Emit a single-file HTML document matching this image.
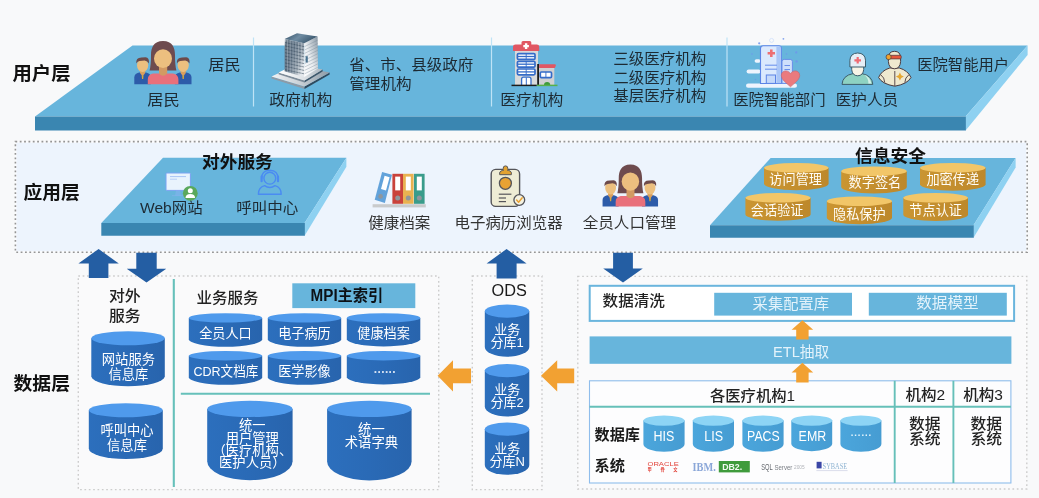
<!DOCTYPE html>
<html lang="zh-CN">
<head>
<meta charset="utf-8">
<title>区域医疗数据平台架构</title>
<style>
html,body{margin:0;padding:0;background:#f8f9fa;}
body{width:1039px;height:498px;overflow:hidden;font-family:"Liberation Sans", "Noto Sans CJK SC", sans-serif;}
svg{display:block;font-family:"Liberation Sans", "Noto Sans CJK SC", sans-serif;filter:blur(0.45px);}
</style>
</head>
<body>
<svg width="1039" height="498" viewBox="0 0 1039 498">
<defs>
<linearGradient id="gBlue" x1="0" x2="1" y1="0" y2="0"><stop offset="0" stop-color="#2c6fbd"/><stop offset="0.5" stop-color="#2a6ab6"/><stop offset="1" stop-color="#2864ad"/></linearGradient>
<linearGradient id="gLight" x1="0" x2="1" y1="0" y2="0"><stop offset="0" stop-color="#4ba6dc"/><stop offset="1" stop-color="#469cd2"/></linearGradient>
<linearGradient id="gGold" x1="0" x2="1" y1="0" y2="0"><stop offset="0" stop-color="#ca9532"/><stop offset="1" stop-color="#bd882b"/></linearGradient>
<linearGradient id="gBldL" x1="0" x2="1" y1="0" y2="0.6"><stop offset="0" stop-color="#dfe5e9"/><stop offset="0.1" stop-color="#6a7b89"/><stop offset="0.45" stop-color="#66788a"/><stop offset="0.8" stop-color="#9ba7b2"/><stop offset="1" stop-color="#e4e8ec"/></linearGradient>
<linearGradient id="gBase" x1="0" x2="1" y1="0" y2="0"><stop offset="0" stop-color="#f1f3f5"/><stop offset="0.5" stop-color="#c9d0d6"/><stop offset="1" stop-color="#8c9aa6"/></linearGradient>
<linearGradient id="gBase2" x1="0" x2="1" y1="0" y2="0"><stop offset="0" stop-color="#ffffff"/><stop offset="0.6" stop-color="#dce1e5"/><stop offset="1" stop-color="#a9b4bd"/></linearGradient>
<linearGradient id="gBldR" x1="0" x2="1" y1="1" y2="0"><stop offset="0" stop-color="#ffffff"/><stop offset="0.45" stop-color="#e9edf0"/><stop offset="1" stop-color="#8796a3"/></linearGradient>
<linearGradient id="gBldT" x1="0" x2="1" y1="0" y2="0.4"><stop offset="0" stop-color="#2f4c62"/><stop offset="0.5" stop-color="#6f8ca2"/><stop offset="1" stop-color="#3a576d"/></linearGradient>
</defs>
<rect x="0" y="0" width="1039" height="498" fill="#f8f9fa"/>

<g id="user-layer">
<polygon points="132.5,45.5 1027.6,45.5 965.6,116.6 35,116.6" fill="#67b5dc"/>
<polygon points="1027.6,45.5 1027.6,55.0 965.6,130.6 965.6,116.6" fill="#8ed1f1"/>
<polygon points="35,116.6 965.9,116.6 965.9,130.6 35,130.6" fill="#3a86b1"/>
<line x1="253.5" y1="37.5" x2="253.5" y2="106.5" stroke="#bfe3f6" stroke-width="1.2"/>
<line x1="491.5" y1="37.5" x2="491.5" y2="106.5" stroke="#bfe3f6" stroke-width="1.2"/>
<line x1="727" y1="37.5" x2="727" y2="106.5" stroke="#bfe3f6" stroke-width="1.2"/>
<text x="12.4" y="80.1" font-size="18.6" fill="#111" font-weight="700" textLength="58.2" lengthAdjust="spacingAndGlyphs">用户层</text>
<text x="208.2" y="70.2" font-size="15.2" fill="#1d2a33" textLength="32.5" lengthAdjust="spacingAndGlyphs">居民</text>
<text x="147.2" y="105.2" font-size="15.2" fill="#1d2a33" textLength="32.5" lengthAdjust="spacingAndGlyphs">居民</text>
<text x="269.2" y="105.2" font-size="15.2" fill="#1d2a33" textLength="63.0" lengthAdjust="spacingAndGlyphs">政府机构</text>
<text x="349.2" y="70.2" font-size="15.2" fill="#1d2a33" textLength="124.0" lengthAdjust="spacingAndGlyphs">省、市、县级政府</text>
<text x="349.2" y="88.7" font-size="15.2" fill="#1d2a33" textLength="62.5" lengthAdjust="spacingAndGlyphs">管理机构</text>
<text x="500.2" y="105.2" font-size="15.2" fill="#1d2a33" textLength="63.0" lengthAdjust="spacingAndGlyphs">医疗机构</text>
<text x="613.2" y="64.2" font-size="15.2" fill="#1d2a33" textLength="93.0" lengthAdjust="spacingAndGlyphs">三级医疗机构</text>
<text x="613.2" y="82.9" font-size="15.2" fill="#1d2a33" textLength="93.0" lengthAdjust="spacingAndGlyphs">二级医疗机构</text>
<text x="613.2" y="101.2" font-size="15.2" fill="#1d2a33" textLength="93.0" lengthAdjust="spacingAndGlyphs">基层医疗机构</text>
<text x="733.2" y="104.7" font-size="15.2" fill="#1d2a33" textLength="92.5" lengthAdjust="spacingAndGlyphs">医院智能部门</text>
<text x="835.7" y="104.7" font-size="15.2" fill="#1d2a33" textLength="62.5" lengthAdjust="spacingAndGlyphs">医护人员</text>
<text x="917.2" y="69.7" font-size="15.2" fill="#1d2a33" textLength="92.0" lengthAdjust="spacingAndGlyphs">医院智能用户</text>
<g transform="translate(163,84.2) scale(1) translate(-163,-84.2)">
<path d="M134.3,84.2 L134.3,77.5 Q134.3,73.6 139.1,72.6 L146.1,72.6 Q150.9,73.6 150.9,77.5 L150.9,84.2 Z" fill="#2d5ba9"/>
<path d="M140.0,70 L145.2,70 L145.2,73 L142.6,76.5 L140.0,73 Z" fill="#d9a05f"/>
<path d="M141.7,75.5 L143.5,75.5 L143.2,79 L142.0,79 Z" fill="#d6a83a"/>
<ellipse cx="142.6" cy="65.3" rx="5.6" ry="6.6" fill="#ecbf7f"/>
<path d="M136.3,63.5 Q135.6,57.3 141.6,57.4 L145.6,57.2 Q149.6,57.6 148.9,63.5 Q147.6,60.6 144.6,60.4 L139.6,61 Q137.3,61.4 136.3,63.5 Z" fill="#6d4a4a"/>
<path d="M174.9,84.2 L174.9,77.5 Q174.9,73.6 179.7,72.6 L186.7,72.6 Q191.5,73.6 191.5,77.5 L191.5,84.2 Z" fill="#2d5ba9"/>
<path d="M180.6,70 L185.8,70 L185.8,73 L183.2,76.5 L180.6,73 Z" fill="#d9a05f"/>
<path d="M182.3,75.5 L184.1,75.5 L183.8,79 L182.6,79 Z" fill="#d6a83a"/>
<ellipse cx="183.2" cy="65.3" rx="5.6" ry="6.6" fill="#ecbf7f"/>
<path d="M176.9,63.5 Q176.2,57.3 182.2,57.4 L186.2,57.2 Q190.2,57.6 189.5,63.5 Q188.2,60.6 185.2,60.4 L180.2,61 Q177.9,61.4 176.9,63.5 Z" fill="#6d4a4a"/>
<path d="M163,41.1 C153.5,41.1 151,48 151,55 C151,62 150.5,67 149.6,70.6 L176.4,70.6 C175.5,67 175,62 175,55 C175,48 172.5,41.1 163,41.1 Z" fill="#6e4b4e"/>
<path d="M147.8,84.2 L147.8,79.5 Q147.8,74.6 153,73.6 L173,73.6 Q178.4,74.6 178.4,79.5 L178.4,84.2 Z" fill="#e9707b"/>
<path d="M159,66 L167.2,66 L167.2,73.4 Q163,78 159,73.4 Z" fill="#d29a63"/>
<ellipse cx="163" cy="58.6" rx="9" ry="9.4" fill="#ecbf7f"/>
</g>
<g id="gov">
<polygon points="271.5,78.6 304.5,88.9 304.5,86.5 271.5,76.5" fill="#8d9ba7"/>
<polygon points="304.5,88.9 329.6,74.6 329.6,72.4 304.5,86.5" fill="#2f4a5e"/>
<polygon points="271.5,76.5 295,65.5 329.6,72.4 304.5,86.5" fill="url(#gBase)"/>
<polygon points="278.6,74.2 304.5,82.4 304.5,80.4 278.6,72.4" fill="#7d8c99"/>
<polygon points="304.5,82.4 322.6,71.4 322.6,69.4 304.5,80.4" fill="#3d586c"/>
<polygon points="278.6,72.4 295,64.5 322.6,69.4 304.5,80.4" fill="url(#gBase2)"/>
<polygon points="284.6,39.1 304.2,43.2 304.2,77 284.6,71.2" fill="url(#gBldL)"/>
<polygon points="304.2,43.2 317.6,36.6 318,68.6 304.2,77" fill="url(#gBldR)"/>
<polygon points="284.6,39.1 297,33.2 317.6,36.6 304.2,43.2" fill="url(#gBldT)"/>
<line x1="285" y1="42.5" x2="304" y2="46.6" stroke="#2c4153" stroke-width="1" opacity="0.5"/>
<line x1="304.6" y1="46.6" x2="317.8" y2="40.1" stroke="#6f8190" stroke-width="0.7" opacity="0.5"/>
<line x1="285" y1="45.9" x2="304" y2="50.0" stroke="#2c4153" stroke-width="1" opacity="0.5"/>
<line x1="304.6" y1="50.0" x2="317.8" y2="43.5" stroke="#6f8190" stroke-width="0.7" opacity="0.5"/>
<line x1="285" y1="49.3" x2="304" y2="53.4" stroke="#2c4153" stroke-width="1" opacity="0.5"/>
<line x1="304.6" y1="53.4" x2="317.8" y2="46.9" stroke="#6f8190" stroke-width="0.7" opacity="0.5"/>
<line x1="285" y1="52.7" x2="304" y2="56.8" stroke="#2c4153" stroke-width="1" opacity="0.5"/>
<line x1="304.6" y1="56.8" x2="317.8" y2="50.3" stroke="#6f8190" stroke-width="0.7" opacity="0.5"/>
<line x1="285" y1="56.1" x2="304" y2="60.2" stroke="#2c4153" stroke-width="1" opacity="0.5"/>
<line x1="304.6" y1="60.2" x2="317.8" y2="53.7" stroke="#6f8190" stroke-width="0.7" opacity="0.5"/>
<line x1="285" y1="59.5" x2="304" y2="63.6" stroke="#2c4153" stroke-width="1" opacity="0.5"/>
<line x1="304.6" y1="63.6" x2="317.8" y2="57.1" stroke="#6f8190" stroke-width="0.7" opacity="0.5"/>
<line x1="285" y1="62.9" x2="304" y2="67.0" stroke="#2c4153" stroke-width="1" opacity="0.5"/>
<line x1="304.6" y1="67.0" x2="317.8" y2="60.5" stroke="#6f8190" stroke-width="0.7" opacity="0.5"/>
<line x1="285" y1="66.3" x2="304" y2="70.4" stroke="#2c4153" stroke-width="1" opacity="0.5"/>
<line x1="304.6" y1="70.4" x2="317.8" y2="63.9" stroke="#6f8190" stroke-width="0.7" opacity="0.5"/>
<line x1="285" y1="69.7" x2="304" y2="73.8" stroke="#2c4153" stroke-width="1" opacity="0.5"/>
<line x1="304.6" y1="73.8" x2="317.8" y2="67.3" stroke="#6f8190" stroke-width="0.7" opacity="0.5"/>
<line x1="287.4" y1="39.7" x2="287.4" y2="72.0" stroke="#e3e9ee" stroke-width="0.7" opacity="0.45"/>
<line x1="290.2" y1="40.3" x2="290.2" y2="72.9" stroke="#e3e9ee" stroke-width="0.7" opacity="0.45"/>
<line x1="293.0" y1="40.9" x2="293.0" y2="73.7" stroke="#e3e9ee" stroke-width="0.7" opacity="0.45"/>
<line x1="295.8" y1="41.5" x2="295.8" y2="74.5" stroke="#e3e9ee" stroke-width="0.7" opacity="0.45"/>
<line x1="298.6" y1="42.1" x2="298.6" y2="75.4" stroke="#e3e9ee" stroke-width="0.7" opacity="0.45"/>
<line x1="301.4" y1="42.6" x2="301.4" y2="76.2" stroke="#e3e9ee" stroke-width="0.7" opacity="0.45"/>
<rect x="305.6" y="56.2" width="2.2" height="6.3" fill="#4a7390"/>
</g>
<g id="hospital">
<rect x="515" y="50.5" width="23" height="34.6" fill="#d9dadb"/>
<rect x="538.3" y="67.5" width="16" height="17.6" fill="#cfd0d2"/>
<path d="M513,50.9 L513,46.8 Q513,44.4 515.5,44.4 L521.5,44.4 L521.5,42.6 Q521.5,41.1 523,41.1 L529.8,41.1 Q531.3,41.1 531.3,42.6 L531.3,44.4 L536.8,44.4 Q539.2,44.4 539.2,46.8 L539.2,50.9 Z" fill="#e15763"/>
<path d="M524.9,43.3 h2.4 v1.6 h1.6 v2.4 h-1.6 v1.6 h-2.4 v-1.6 h-1.6 v-2.4 h1.6 z" fill="#fff"/>
<rect x="517.4" y="53.6" width="17.6" height="5.8" rx="1.2" fill="#fff" stroke="#356cc9" stroke-width="1.7"/>
<line x1="526.2" y1="53.6" x2="526.2" y2="59.4" stroke="#356cc9" stroke-width="0.9"/>
<line x1="517.4" y1="56.5" x2="535" y2="56.5" stroke="#356cc9" stroke-width="1.3"/>
<rect x="517.4" y="61.3" width="17.6" height="5.8" rx="1.2" fill="#fff" stroke="#356cc9" stroke-width="1.7"/>
<line x1="526.2" y1="61.3" x2="526.2" y2="67.1" stroke="#356cc9" stroke-width="0.9"/>
<line x1="517.4" y1="64.2" x2="535" y2="64.2" stroke="#356cc9" stroke-width="1.3"/>
<rect x="517.4" y="69" width="17.6" height="5.8" rx="1.2" fill="#fff" stroke="#356cc9" stroke-width="1.7"/>
<line x1="526.2" y1="69" x2="526.2" y2="74.8" stroke="#356cc9" stroke-width="0.9"/>
<line x1="517.4" y1="71.9" x2="535" y2="71.9" stroke="#356cc9" stroke-width="1.3"/>
<path d="M521.6,85 L521.6,79.2 Q521.6,77.2 523.6,77.2 L529,77.2 Q531,77.2 531,79.2 L531,85" fill="#fff" stroke="#356cc9" stroke-width="1.3"/>
<line x1="526.3" y1="77.5" x2="526.3" y2="85" stroke="#356cc9" stroke-width="1"/>
<path d="M539.2,67.9 L539.2,64.2 L554.8,64.2 Q556.4,64.2 555.8,65.7 L554.8,67.9 Z" fill="#e15763"/>
<rect x="540.3" y="72" width="11.2" height="5.6" rx="1" fill="#fff" stroke="#356cc9" stroke-width="1.7"/>
<line x1="545.9" y1="72" x2="545.9" y2="77.6" stroke="#356cc9" stroke-width="0.9"/>
<line x1="538.1" y1="64" x2="538.1" y2="85" stroke="#1c1c1c" stroke-width="1.8"/>
<path d="M544,85 a3.1,3.1 0 0 1 6.2,0 Z" fill="#3e9a3c"/>
<line x1="511.5" y1="85.4" x2="536.8" y2="85.4" stroke="#1c1c1c" stroke-width="1.5"/>
<line x1="536.8" y1="85.4" x2="557.5" y2="85.4" stroke="#56b04a" stroke-width="1.5"/>
</g>
<g id="smart">
<rect x="746" y="83.6" width="51" height="4.2" rx="2.1" fill="#eef4fd"/>
<rect x="746.6" y="69.6" width="14" height="4" rx="2" fill="#eef4fd"/>
<rect x="754.6" y="59.2" width="6" height="3.6" rx="1.8" fill="#eef4fd"/>
<path d="M782,83.4 L782,61.6 Q782,59.4 784.2,59.4 L790.2,59.4 Q792.4,59.4 792.4,61.6 L792.4,83.4 Z" fill="#cfe0fb" stroke="#6a8fea" stroke-width="1"/>
<line x1="784.5" y1="65.5" x2="790" y2="65.5" stroke="#6a8fea" stroke-width="1"/>
<line x1="784.5" y1="69.5" x2="790" y2="69.5" stroke="#6a8fea" stroke-width="1"/>
<path d="M760.5,83.5 L760.5,48.4 Q760.5,45.7 763.2,45.7 L778.6,45.7 Q781.3,45.7 781.3,48.4 L781.3,83.5 Z" fill="#dbe9fd" stroke="#5c84e6" stroke-width="1.1"/>
<rect x="776.4" y="46.4" width="4.3" height="36.8" fill="#a9c6f7"/>
<path d="M770,49.6 h2.6 v2.4 h2.4 v2.6 h-2.4 v2.4 h-2.6 v-2.4 h-2.4 v-2.6 h2.4 z" fill="#ee6f72"/>
<line x1="765" y1="65.2" x2="777" y2="65.2" stroke="#6f95ec" stroke-width="1.1"/>
<line x1="765" y1="69.2" x2="777" y2="69.2" stroke="#6f95ec" stroke-width="1.1"/>
<rect x="766.3" y="75" width="9.2" height="8.4" fill="#c5d9fa" stroke="#5c84e6" stroke-width="1"/>
<path d="M790.5,86.8 C786,82.8 781.3,79.6 781.3,75.3 C781.3,72.6 783.4,70.9 785.8,70.9 C787.8,70.9 789.6,72 790.5,73.8 C791.4,72 793.2,70.9 795.2,70.9 C797.6,70.9 799.7,72.6 799.7,75.3 C799.7,79.6 795,82.8 790.5,86.8 Z" fill="#ea7a7e" stroke="#c9636c" stroke-width="0.6"/>
<circle cx="759.2" cy="43.3" r="1.1" fill="#6f95ec" opacity="0.85"/>
<circle cx="783.4" cy="38.8" r="0.9" fill="#6f95ec" opacity="0.85"/>
<circle cx="796.3" cy="52.4" r="1.1" fill="#6f95ec" opacity="0.85"/>
<circle cx="796.6" cy="61.4" r="1.2" fill="#6f95ec" opacity="0.85"/>
<circle cx="752" cy="54" r="0.8" fill="#6f95ec" opacity="0.85"/>
<circle cx="786.6" cy="54" r="0.7" fill="#6f95ec" opacity="0.85"/>
<circle cx="755.5" cy="79.5" r="0.7" fill="#6f95ec" opacity="0.85"/>
<circle cx="771.6" cy="40.4" r="2" fill="none" stroke="#cfe0fb" stroke-width="0.8"/>
</g>
<g id="medstaff">
<path d="M842,84.4 Q842.6,75.6 853,73.6 L862,73.6 Q872.2,75.6 872.8,84.4 Z" fill="#8ed2c2" stroke="#3d5c6b" stroke-width="1"/>
<path d="M864,74.5 Q870,77 871.3,83.6 L868.4,83.6 Q868.8,78.5 864,74.5 Z" fill="#d4efe8"/>
<path d="M851.7,66 L851.7,69.5 Q852.2,75.6 857.7,75.8 Q863.2,75.6 863.7,69.5 L863.7,66 Z" fill="#f8f4e6" stroke="#3d5c6b" stroke-width="1"/>
<path d="M849.9,67 L849.9,60.2 Q850.3,53.2 857.7,53 Q865.1,53.2 865.5,60.2 L865.5,67 Z" fill="#e6eef6" stroke="#3d5c6b" stroke-width="1"/>
<path d="M856.6,57 h2.2 v2.2 h2.2 v2.2 h-2.2 v2.2 h-2.2 v-2.2 h-2.2 v-2.2 h2.2 z" fill="#ef6b73"/>
<path d="M878.6,77.5 Q881.6,70.4 889.8,68 L899.3,68 Q907.8,70.4 911,77.5 Q907.5,84 894.8,86.2 Q882,84 878.6,77.5 Z" fill="#efe9cf" stroke="#4b3b3f" stroke-width="1"/>
<path d="M880.6,74.6 Q884.6,77.5 884.8,82.6" fill="none" stroke="#4b3b3f" stroke-width="0.9"/>
<path d="M909,74.6 Q905,77.5 904.8,82.6" fill="none" stroke="#4b3b3f" stroke-width="0.9"/>
<line x1="894.8" y1="71" x2="894.8" y2="86" stroke="#4b3b3f" stroke-width="0.9"/>
<path d="M899.9,72.6 l1.3,2.7 l2.7,1.3 l-2.7,1.3 l-1.3,2.7 l-1.3,-2.7 l-2.7,-1.3 l2.7,-1.3 z" fill="#e5a731"/>
<path d="M888.4,58 Q888.4,51.4 894.5,51.3 Q900.6,51.4 900.6,58 L900.6,61.5 Q900.2,68.6 894.5,68.8 Q888.8,68.6 888.4,61.5 Z" fill="#efe9cf" stroke="#4b3b3f" stroke-width="1"/>
<rect x="887.6" y="55.3" width="13.6" height="3.6" rx="1" fill="#e4573c" stroke="#4b3b3f" stroke-width="0.7"/>
<circle cx="888.6" cy="57" r="2.6" fill="#f0a22c" stroke="#4b3b3f" stroke-width="0.7"/>
</g>
</g>
<g id="app-layer">
<rect x="15.4" y="141.6" width="1011.8" height="110.6" fill="#fcfdfe" stroke="none"/>
<rect x="16.5" y="142.7" width="1009.6" height="108.4" fill="#edf4fd"/>
<rect x="15.4" y="141.6" width="1011.8" height="110.6" fill="none" stroke="#959595" stroke-width="1.6" stroke-dasharray="1.8 2.55"/>
<text x="23.5" y="198.8" font-size="18.6" fill="#111" font-weight="700" textLength="56.3" lengthAdjust="spacingAndGlyphs">应用层</text>
<polygon points="163,157.7 346.4,157.7 304.6,222.9 101.3,222.9" fill="#67b5dc"/>
<polygon points="346.4,157.7 346.4,166.7 304.6,235.70000000000002 304.6,222.9" fill="#8ed1f1"/>
<polygon points="101.3,222.9 304.90000000000003,222.9 304.90000000000003,235.70000000000002 101.3,235.70000000000002" fill="#3a86b1"/>
<text x="202.1" y="167.6" font-size="17.5" fill="#111" font-weight="700" textLength="70.6" lengthAdjust="spacingAndGlyphs">对外服务</text>
<text x="140.0" y="213.0" font-size="15.2" fill="#1d2a33" textLength="62.8" lengthAdjust="spacingAndGlyphs">Web网站</text>
<text x="236.2" y="213.0" font-size="15.2" fill="#1d2a33" textLength="62.1" lengthAdjust="spacingAndGlyphs">呼叫中心</text>
<rect x="166" y="173" width="24.4" height="17.4" rx="0.8" fill="#e9f3fd" stroke="#7aa2f2" stroke-width="1"/>
<line x1="170" y1="176.6" x2="186" y2="176.6" stroke="#a9c4f6" stroke-width="1"/>
<line x1="170" y1="179.2" x2="177" y2="179.2" stroke="#a9c4f6" stroke-width="0.8"/>
<path d="M176,190.6 L175,195.4 L181,195.4 L180,190.6 Z" fill="#8eb2f4" opacity="0.45"/>
<line x1="172" y1="195.6" x2="184" y2="195.6" stroke="#8eb2f4" stroke-width="1" opacity="0.45"/>
<circle cx="190.3" cy="193.3" r="7.4" fill="#5aa85c"/>
<circle cx="190.3" cy="190.8" r="2.5" fill="#fff"/>
<path d="M185.5,198 Q185.7,194 190.3,194 Q194.9,194 195.1,198 Z" fill="#fff"/>
<g fill="none" stroke="#4a8bf2" stroke-width="1.4" stroke-linecap="round">
<circle cx="269.8" cy="178.2" r="5.9"/>
<path d="M261.6,178.6 Q261.4,170.4 269.8,170.2 Q278.2,170.4 278,178.6"/>
<path d="M261.6,176.6 L261.6,181.2 M278,176.6 L278,181.2" stroke-width="2.2"/>
<path d="M258.4,194.2 Q258.4,187.2 264.6,185.6 Q269.8,189.4 275,185.6 Q281.2,187.2 281.2,194.2 Z" stroke-linejoin="round"/>
</g>
<rect x="372.6" y="204.2" width="53.2" height="3.2" fill="#c9cbcc"/>
<polygon points="382.1,172 392,174.8 384.9,203 374.7,199.8" fill="#62a2da"/>
<polygon points="384.6,175.8 389.6,177.2 386,190.4 381,189" fill="#fff"/>
<circle cx="380.6" cy="196.4" r="2.3" fill="#8f969c"/>
<rect x="392.4" y="173.8" width="10.6" height="30" fill="#c9423b"/>
<rect x="395.2" y="176.6" width="5" height="13.8" fill="#fff"/>
<circle cx="397.7" cy="198" r="2.5" fill="#8f969c"/>
<rect x="403" y="173.8" width="10.6" height="30" fill="#e9b251"/>
<rect x="405.8" y="176.6" width="5" height="13.8" fill="#fff"/>
<circle cx="408.3" cy="198" r="2.5" fill="#8f969c"/>
<rect x="414" y="173.8" width="10.6" height="30" fill="#3a9c8b"/>
<rect x="416.8" y="176.6" width="5" height="13.8" fill="#fff"/>
<circle cx="419.3" cy="198" r="2.5" fill="#8f969c"/>
<text x="368.2" y="227.9" font-size="15.2" fill="#333" textLength="62.2" lengthAdjust="spacingAndGlyphs">健康档案</text>
<rect x="491.2" y="169.4" width="28.4" height="37" rx="4.5" fill="#eeecd5" stroke="#55555a" stroke-width="1.4"/>
<path d="M499.7,174.7 Q499,171 502.6,170.5 L508.4,170.5 Q512,171 511.3,174.7 Z" fill="#e2a232" stroke="#55555a" stroke-width="1"/>
<circle cx="505.5" cy="168.2" r="2.3" fill="#e2a232" stroke="#55555a" stroke-width="1"/>
<rect x="503.6" y="168.4" width="3.8" height="3.4" fill="#e2a232"/>
<circle cx="505.4" cy="183.3" r="6" fill="#e8a233" stroke="#55555a" stroke-width="1.3"/>
<line x1="498.8" y1="194.2" x2="511.4" y2="194.2" stroke="#55555a" stroke-width="1.2"/>
<line x1="498.8" y1="198" x2="506" y2="198" stroke="#55555a" stroke-width="1.2"/>
<line x1="498.8" y1="201.6" x2="506" y2="201.6" stroke="#55555a" stroke-width="1.2"/>
<circle cx="519.3" cy="200" r="5.4" fill="#f4f2e2" stroke="#55555a" stroke-width="1.3"/>
<path d="M516.6,200 L518.6,202.2 L522.2,197.8" fill="none" stroke="#e8a233" stroke-width="1.5" stroke-linecap="round" stroke-linejoin="round"/>
<text x="454.5" y="227.9" font-size="15.2" fill="#333" textLength="108.2" lengthAdjust="spacingAndGlyphs">电子病历浏览器</text>
<text x="582.7" y="227.9" font-size="15.2" fill="#333" textLength="93.4" lengthAdjust="spacingAndGlyphs">全员人口管理</text>
</g>
<g id="people2">
<g transform="translate(630.4,206.4) scale(0.97) translate(-163,-84.2)">
<path d="M134.3,84.2 L134.3,77.5 Q134.3,73.6 139.1,72.6 L146.1,72.6 Q150.9,73.6 150.9,77.5 L150.9,84.2 Z" fill="#2d5ba9"/>
<path d="M140.0,70 L145.2,70 L145.2,73 L142.6,76.5 L140.0,73 Z" fill="#d9a05f"/>
<path d="M141.7,75.5 L143.5,75.5 L143.2,79 L142.0,79 Z" fill="#d6a83a"/>
<ellipse cx="142.6" cy="65.3" rx="5.6" ry="6.6" fill="#ecbf7f"/>
<path d="M136.3,63.5 Q135.6,57.3 141.6,57.4 L145.6,57.2 Q149.6,57.6 148.9,63.5 Q147.6,60.6 144.6,60.4 L139.6,61 Q137.3,61.4 136.3,63.5 Z" fill="#6d4a4a"/>
<path d="M174.9,84.2 L174.9,77.5 Q174.9,73.6 179.7,72.6 L186.7,72.6 Q191.5,73.6 191.5,77.5 L191.5,84.2 Z" fill="#2d5ba9"/>
<path d="M180.6,70 L185.8,70 L185.8,73 L183.2,76.5 L180.6,73 Z" fill="#d9a05f"/>
<path d="M182.3,75.5 L184.1,75.5 L183.8,79 L182.6,79 Z" fill="#d6a83a"/>
<ellipse cx="183.2" cy="65.3" rx="5.6" ry="6.6" fill="#ecbf7f"/>
<path d="M176.9,63.5 Q176.2,57.3 182.2,57.4 L186.2,57.2 Q190.2,57.6 189.5,63.5 Q188.2,60.6 185.2,60.4 L180.2,61 Q177.9,61.4 176.9,63.5 Z" fill="#6d4a4a"/>
<path d="M163,41.1 C153.5,41.1 151,48 151,55 C151,62 150.5,67 149.6,70.6 L176.4,70.6 C175.5,67 175,62 175,55 C175,48 172.5,41.1 163,41.1 Z" fill="#6e4b4e"/>
<path d="M147.8,84.2 L147.8,79.5 Q147.8,74.6 153,73.6 L173,73.6 Q178.4,74.6 178.4,79.5 L178.4,84.2 Z" fill="#e9707b"/>
<path d="M159,66 L167.2,66 L167.2,73.4 Q163,78 159,73.4 Z" fill="#d29a63"/>
<ellipse cx="163" cy="58.6" rx="9" ry="9.4" fill="#ecbf7f"/>
</g>
</g>
<g id="security">
<polygon points="770.6,158 1015.6,158 973.5,225.3 710,225.3" fill="#67b5dc"/>
<polygon points="1015.6,158 1015.6,167.5 973.5,237.8 973.5,225.3" fill="#8ed1f1"/>
<polygon points="710,225.3 973.8,225.3 973.8,237.8 710,237.8" fill="#3a86b1"/>
<text x="854.9" y="162.4" font-size="17.5" fill="#111" font-weight="700" textLength="71.0" lengthAdjust="spacingAndGlyphs">信息安全</text>
<path d="M764.0,167.8 L764.0,183.8 A32.3,6.4 0 0 0 828.6,183.8 L828.6,167.8 Z" fill="url(#gGold)"/>
<ellipse cx="796.3" cy="167.8" rx="32.3" ry="4.8" fill="#f2c668"/>
<text x="769.3" y="183.8" font-size="13.2" fill="#fffdf6" textLength="52.7" lengthAdjust="spacingAndGlyphs">访问管理</text>
<path d="M841.2,171.2 L841.2,187.0 A32.8,6.4 0 0 0 906.8,187.0 L906.8,171.2 Z" fill="url(#gGold)"/>
<ellipse cx="874.0" cy="171.2" rx="32.8" ry="4.8" fill="#f2c668"/>
<text x="848.6" y="187.1" font-size="13.2" fill="#fffdf6" textLength="52.7" lengthAdjust="spacingAndGlyphs">数字签名</text>
<path d="M920.0,167.8 L920.0,184.3 A32.8,6.4 0 0 0 985.6,184.3 L985.6,167.8 Z" fill="url(#gGold)"/>
<ellipse cx="952.8" cy="167.8" rx="32.8" ry="4.8" fill="#f2c668"/>
<text x="926.4" y="184.0" font-size="13.2" fill="#fffdf6" textLength="52.7" lengthAdjust="spacingAndGlyphs">加密传递</text>
<path d="M745.4,197.8 L745.4,214.4 A32.6,6.4 0 0 0 810.6,214.4 L810.6,197.8 Z" fill="url(#gGold)"/>
<ellipse cx="778.0" cy="197.8" rx="32.6" ry="4.8" fill="#f2c668"/>
<text x="750.8" y="215.2" font-size="13.2" fill="#fffdf6" textLength="52.7" lengthAdjust="spacingAndGlyphs">会话验证</text>
<path d="M826.8,201.2 L826.8,217.8 A32.6,6.4 0 0 0 892.0,217.8 L892.0,201.2 Z" fill="url(#gGold)"/>
<ellipse cx="859.4" cy="201.2" rx="32.6" ry="4.8" fill="#f2c668"/>
<text x="833.0" y="218.6" font-size="13.2" fill="#fffdf6" textLength="52.7" lengthAdjust="spacingAndGlyphs">隐私保护</text>
<path d="M903.3,197.8 L903.3,214.9 A32.4,6.4 0 0 0 968.0,214.9 L968.0,197.8 Z" fill="url(#gGold)"/>
<ellipse cx="935.6" cy="197.8" rx="32.4" ry="4.8" fill="#f2c668"/>
<text x="909.3" y="215.4" font-size="13.2" fill="#fffdf6" textLength="52.7" lengthAdjust="spacingAndGlyphs">节点认证</text>
</g>
<g id="data-layer">
<text x="13.5" y="390.0" font-size="18.6" fill="#111" font-weight="700" textLength="56.5" lengthAdjust="spacingAndGlyphs">数据层</text>
<rect x="78.3" y="276" width="360.4" height="213.6" fill="#fafafb" stroke="#cdcdcd" stroke-width="1.4" stroke-dasharray="1.7 2.65"/>
<rect x="472.3" y="276" width="69.7" height="213.6" fill="#fafafb" stroke="#cdcdcd" stroke-width="1.4" stroke-dasharray="1.7 2.65"/>
<rect x="577.8" y="276.4" width="449" height="212.6" fill="#fafafb" stroke="#cdcdcd" stroke-width="1.4" stroke-dasharray="1.7 2.65"/>
<polygon points="98.6,249 118.8,263.4 108.39999999999999,263.4 108.39999999999999,278 88.8,278 88.8,263.4 78.39999999999999,263.4" fill="#245ea3"/>
<polygon points="136.3,252.8 156.7,252.8 156.7,268.8 166.3,268.8 146.5,282.4 126.7,268.8 136.3,268.8" fill="#245ea3"/>
<polygon points="506.6,249 526.6,263.4 516.6,263.4 516.6,278.4 496.6,278.4 496.6,263.4 486.6,263.4" fill="#245ea3"/>
<polygon points="613.1,252.8 632.9,252.8 632.9,268.6 642.8,268.6 623,282.4 603.2,268.6 613.1,268.6" fill="#245ea3"/>
<polygon points="437.6,375.8 453,360.2 453,368.40000000000003 471,368.40000000000003 471,383.2 453,383.2 453,391.40000000000003" fill="#f2a132"/>
<polygon points="541,375.8 557.2,360.2 557.2,368.40000000000003 574.2,368.40000000000003 574.2,383.2 557.2,383.2 557.2,391.40000000000003" fill="#f2a132"/>
<line x1="173.8" y1="279" x2="173.8" y2="487" stroke="#66c0ba" stroke-width="2.1"/>
<line x1="180.8" y1="393.7" x2="430" y2="393.7" stroke="#66c0ba" stroke-width="2.1"/>
<text x="108.9" y="300.6" font-size="15.2" fill="#222" font-weight="500" textLength="31.8" lengthAdjust="spacingAndGlyphs">对外</text>
<text x="108.9" y="320.7" font-size="15.2" fill="#222" font-weight="500" textLength="31.8" lengthAdjust="spacingAndGlyphs">服务</text>
<text x="196.5" y="302.8" font-size="15.2" fill="#222" font-weight="500" textLength="62.0" lengthAdjust="spacingAndGlyphs">业务服务</text>
<rect x="292.3" y="283.3" width="123" height="24.8" fill="#67b5dc"/>
<text x="310.6" y="301.4" font-size="16" fill="#0c1116" font-weight="700" textLength="72.6" lengthAdjust="spacingAndGlyphs">MPI主索引</text>
<path d="M91.3,338.2 L91.3,376.4 A36.8,10.5 0 0 0 164.8,376.4 L164.8,338.2 Z" fill="url(#gBlue)"/>
<ellipse cx="128.1" cy="338.2" rx="36.8" ry="7.0" fill="#4f9aec"/>
<text x="128.4" y="364.1" font-size="13.3" fill="#fff" text-anchor="middle">网站服务</text>
<text x="128.4" y="379.3" font-size="13.3" fill="#fff" text-anchor="middle">信息库</text>
<path d="M88.8,410.2 L88.8,448.5 A37.0,10.5 0 0 0 162.8,448.5 L162.8,410.2 Z" fill="url(#gBlue)"/>
<ellipse cx="125.8" cy="410.2" rx="37.0" ry="7.0" fill="#4f9aec"/>
<text x="127.0" y="434.8" font-size="13.3" fill="#fff" text-anchor="middle">呼叫中心</text>
<text x="127.0" y="449.8" font-size="13.3" fill="#fff" text-anchor="middle">信息库</text>
<path d="M188.8,317.9 L188.8,339.2 A36.7,7.6 0 0 0 262.2,339.2 L262.2,317.9 Z" fill="url(#gBlue)"/>
<ellipse cx="225.5" cy="317.9" rx="36.7" ry="4.7" fill="#4f9aec"/>
<text x="199.2" y="337.9" font-size="13.3" fill="#fff" textLength="52.5" lengthAdjust="spacingAndGlyphs">全员人口</text>
<path d="M267.8,317.9 L267.8,339.2 A36.7,7.6 0 0 0 341.2,339.2 L341.2,317.9 Z" fill="url(#gBlue)"/>
<ellipse cx="304.5" cy="317.9" rx="36.7" ry="4.7" fill="#4f9aec"/>
<text x="278.2" y="337.9" font-size="13.3" fill="#fff" textLength="52.5" lengthAdjust="spacingAndGlyphs">电子病历</text>
<path d="M346.8,317.9 L346.8,339.2 A36.8,7.6 0 0 0 420.3,339.2 L420.3,317.9 Z" fill="url(#gBlue)"/>
<ellipse cx="383.6" cy="317.9" rx="36.8" ry="4.7" fill="#4f9aec"/>
<text x="357.3" y="337.9" font-size="13.3" fill="#fff" textLength="52.5" lengthAdjust="spacingAndGlyphs">健康档案</text>
<path d="M188.8,355.7 L188.8,377.2 A36.7,7.6 0 0 0 262.2,377.2 L262.2,355.7 Z" fill="url(#gBlue)"/>
<ellipse cx="225.5" cy="355.7" rx="36.7" ry="4.7" fill="#4f9aec"/>
<text x="193.4" y="375.9" font-size="13.3" fill="#fff" textLength="64.9" lengthAdjust="spacingAndGlyphs">CDR文档库</text>
<path d="M267.8,355.7 L267.8,377.2 A36.7,7.6 0 0 0 341.2,377.2 L341.2,355.7 Z" fill="url(#gBlue)"/>
<ellipse cx="304.5" cy="355.7" rx="36.7" ry="4.7" fill="#4f9aec"/>
<text x="278.2" y="375.9" font-size="13.3" fill="#fff" textLength="52.5" lengthAdjust="spacingAndGlyphs">医学影像</text>
<path d="M346.8,355.7 L346.8,377.2 A36.8,7.6 0 0 0 420.3,377.2 L420.3,355.7 Z" fill="url(#gBlue)"/>
<ellipse cx="383.6" cy="355.7" rx="36.8" ry="4.7" fill="#4f9aec"/>
<text x="384.9" y="372.7" font-size="12" fill="#d6e2f3" text-anchor="middle" letter-spacing="0.35" font-weight="700">......</text>
<path d="M207.2,408.9 L207.2,461.2 A42.7,19.0 0 0 0 292.6,461.2 L292.6,408.9 Z" fill="url(#gBlue)"/>
<ellipse cx="249.9" cy="408.9" rx="42.7" ry="8.1" fill="#4f9aec"/>
<text x="252.3" y="429.7" font-size="13.3" fill="#fff" text-anchor="middle">统一</text>
<text x="252.3" y="442.5" font-size="13.3" fill="#fff" text-anchor="middle">用户管理</text>
<text x="252.3" y="454.9" font-size="13.3" fill="#fff" text-anchor="middle">（医疗机构、</text>
<text x="252.3" y="466.8" font-size="13.3" fill="#fff" text-anchor="middle">医护人员）</text>
<path d="M327.1,408.9 L327.1,461.4 A42.2,19.0 0 0 0 411.6,461.4 L411.6,408.9 Z" fill="url(#gBlue)"/>
<ellipse cx="369.4" cy="408.9" rx="42.2" ry="8.1" fill="#4f9aec"/>
<text x="371.4" y="433.5" font-size="13.3" fill="#fff" text-anchor="middle">统一</text>
<text x="371.4" y="446.7" font-size="13.3" fill="#fff" text-anchor="middle">术语字典</text>
<text x="491.5" y="295.9" font-size="17.4" fill="#1a1a1a" textLength="35.3" lengthAdjust="spacingAndGlyphs">ODS</text>
<path d="M484.8,311.1 L484.8,346.9 A22.2,9.8 0 0 0 529.3,346.9 L529.3,311.1 Z" fill="url(#gBlue)"/>
<ellipse cx="507.0" cy="311.1" rx="22.2" ry="6.6" fill="#4f9aec"/>
<text x="507.2" y="334.4" font-size="13" fill="#fff" text-anchor="middle">业务</text>
<text x="507.2" y="347.4" font-size="13" fill="#fff" text-anchor="middle">分库1</text>
<path d="M484.8,370.6 L484.8,406.6 A22.2,9.8 0 0 0 529.3,406.6 L529.3,370.6 Z" fill="url(#gBlue)"/>
<ellipse cx="507.0" cy="370.6" rx="22.2" ry="6.6" fill="#4f9aec"/>
<text x="507.2" y="393.9" font-size="13" fill="#fff" text-anchor="middle">业务</text>
<text x="507.2" y="406.9" font-size="13" fill="#fff" text-anchor="middle">分库2</text>
<path d="M484.8,429.2 L484.8,465.0 A22.2,9.8 0 0 0 529.3,465.0 L529.3,429.2 Z" fill="url(#gBlue)"/>
<ellipse cx="507.0" cy="429.2" rx="22.2" ry="6.6" fill="#4f9aec"/>
<text x="507.2" y="452.5" font-size="13" fill="#fff" text-anchor="middle">业务</text>
<text x="507.2" y="465.5" font-size="13" fill="#fff" text-anchor="middle">分库N</text>
<rect x="589.7" y="285.8" width="424.4" height="35.1" fill="#ffffff" stroke="#6ab5dd" stroke-width="2"/>
<text x="602.6" y="305.8" font-size="15.2" fill="#222" font-weight="500" textLength="62.3" lengthAdjust="spacingAndGlyphs">数据清洗</text>
<rect x="714.2" y="292.8" width="137.8" height="22.8" fill="#67b5dc"/>
<text x="752.6" y="308.8" font-size="15.2" fill="#e4f3fb" textLength="76.5" lengthAdjust="spacingAndGlyphs">采集配置库</text>
<rect x="868.8" y="292.8" width="138" height="22.8" fill="#67b5dc"/>
<text x="916.2" y="308.1" font-size="15.2" fill="#e4f3fb" textLength="62.5" lengthAdjust="spacingAndGlyphs">数据模型</text>
<rect x="589.6" y="336.4" width="421.8" height="27.4" fill="#67b5dc"/>
<text x="773.0" y="357.4" font-size="15.2" fill="#e4f3fb" textLength="56.0" lengthAdjust="spacingAndGlyphs">ETL抽取</text>
<rect x="589.5" y="380.8" width="421.4" height="102.2" fill="#fdfdfe" stroke="#8fbdec" stroke-width="1.1"/>
<line x1="589.5" y1="406.7" x2="1010.9" y2="406.7" stroke="#66c0b9" stroke-width="1.9"/>
<line x1="894.7" y1="380.8" x2="894.7" y2="483" stroke="#66c0b9" stroke-width="1.9"/>
<line x1="953.4" y1="380.8" x2="953.4" y2="483" stroke="#66c0b9" stroke-width="1.9"/>
<polygon points="802.4,320.3 813.1999999999999,329.8 808.6,329.8 808.6,339.4 796.1999999999999,339.4 796.1999999999999,329.8 791.6,329.8" fill="#f2a132"/>
<polygon points="802.4,362.8 813.1999999999999,372.4 808.6,372.4 808.6,382.4 796.1999999999999,382.4 796.1999999999999,372.4 791.6,372.4" fill="#f2a132"/>
<text x="710.0" y="400.6" font-size="15.2" fill="#222" font-weight="500" textLength="85.0" lengthAdjust="spacingAndGlyphs">各医疗机构1</text>
<text x="905.5" y="399.8" font-size="15.2" fill="#222" font-weight="500" textLength="39.7" lengthAdjust="spacingAndGlyphs">机构2</text>
<text x="963.2" y="399.8" font-size="15.2" fill="#222" font-weight="500" textLength="39.6" lengthAdjust="spacingAndGlyphs">机构3</text>
<text x="908.9" y="428.9" font-size="15.2" fill="#222" font-weight="500" textLength="31.6" lengthAdjust="spacingAndGlyphs">数据</text>
<text x="908.9" y="444.2" font-size="15.2" fill="#222" font-weight="500" textLength="31.6" lengthAdjust="spacingAndGlyphs">系统</text>
<text x="970.5" y="428.9" font-size="15.2" fill="#222" font-weight="500" textLength="31.6" lengthAdjust="spacingAndGlyphs">数据</text>
<text x="970.5" y="444.2" font-size="15.2" fill="#222" font-weight="500" textLength="31.6" lengthAdjust="spacingAndGlyphs">系统</text>
<text x="594.5" y="440.0" font-size="15.2" fill="#1a1a1a" font-weight="700" textLength="45.4" lengthAdjust="spacingAndGlyphs">数据库</text>
<text x="594.5" y="470.5" font-size="15.2" fill="#1a1a1a" font-weight="700" textLength="30.4" lengthAdjust="spacingAndGlyphs">系统</text>
<path d="M643.4,420.6 L643.4,443.9 A20.6,7.8 0 0 0 684.6,443.9 L684.6,420.6 Z" fill="url(#gLight)"/>
<ellipse cx="664.0" cy="420.6" rx="20.6" ry="5.2" fill="#8dd4f5"/>
<text x="653.5" y="441.2" font-size="14.2" fill="#fff" textLength="20.8" lengthAdjust="spacingAndGlyphs">HIS</text>
<path d="M692.8,420.6 L692.8,443.9 A20.6,7.8 0 0 0 734.0,443.9 L734.0,420.6 Z" fill="url(#gLight)"/>
<ellipse cx="713.4" cy="420.6" rx="20.6" ry="5.2" fill="#8dd4f5"/>
<text x="704.2" y="441.2" font-size="14.2" fill="#fff" textLength="18.8" lengthAdjust="spacingAndGlyphs">LIS</text>
<path d="M742.4,420.6 L742.4,443.9 A20.6,7.8 0 0 0 783.6,443.9 L783.6,420.6 Z" fill="url(#gLight)"/>
<ellipse cx="763.0" cy="420.6" rx="20.6" ry="5.2" fill="#8dd4f5"/>
<text x="747.1" y="441.2" font-size="14.2" fill="#fff" textLength="32.6" lengthAdjust="spacingAndGlyphs">PACS</text>
<path d="M791.3,420.6 L791.3,443.9 A20.5,7.8 0 0 0 832.2,443.9 L832.2,420.6 Z" fill="url(#gLight)"/>
<ellipse cx="811.8" cy="420.6" rx="20.5" ry="5.2" fill="#8dd4f5"/>
<text x="798.6" y="441.2" font-size="14.2" fill="#fff" textLength="27.6" lengthAdjust="spacingAndGlyphs">EMR</text>
<path d="M840.4,420.6 L840.4,443.9 A20.5,7.8 0 0 0 881.4,443.9 L881.4,420.6 Z" fill="url(#gLight)"/>
<ellipse cx="860.9" cy="420.6" rx="20.5" ry="5.2" fill="#8dd4f5"/>
<text x="861.4" y="435.8" font-size="9.5" fill="#e6f5fd" text-anchor="middle" letter-spacing="0.9" font-weight="700">......</text>
<text x="647.5" y="465.9" font-size="5.6" fill="#e2453c" textLength="31.2" lengthAdjust="spacingAndGlyphs">ORACLE</text>
<text x="647.5" y="471.4" font-size="4.2" fill="#e2453c" font-weight="700" textLength="30" lengthAdjust="spacing">甲骨文</text>
<text x="692.6" y="470.6" font-size="12" fill="#8ba7d8" font-weight="700" font-family="&quot;Liberation Serif&quot;, serif" textLength="23.2" lengthAdjust="spacingAndGlyphs">IBM.</text>
<rect x="718.8" y="461" width="31" height="11.4" fill="#3f9b3c"/>
<text x="722.2" y="470.4" font-size="9.8" fill="#f2faf2" font-weight="700" textLength="20" lengthAdjust="spacingAndGlyphs">DB2.</text>
<text x="761.2" y="469.8" font-size="8.6" fill="#666a70" textLength="11.6" lengthAdjust="spacingAndGlyphs">SQL</text>
<text x="774.4" y="469.6" font-size="7" fill="#7b7f85" textLength="18" lengthAdjust="spacingAndGlyphs">Server</text>
<text x="794" y="469.4" font-size="5" fill="#b0b3b8" textLength="10.6" lengthAdjust="spacingAndGlyphs">2005</text>
<rect x="816.6" y="461.8" width="5" height="6.6" fill="#3b46a6"/>
<text x="822.6" y="468.5" font-size="7.6" fill="#8fb4d2" font-family="&quot;Liberation Serif&quot;, serif" textLength="24.6" lengthAdjust="spacingAndGlyphs">SYBASE</text>
<line x1="816.4" y1="470.6" x2="847.6" y2="470.6" stroke="#c3c7de" stroke-width="0.6"/>
</g>
</svg>
</body>
</html>
